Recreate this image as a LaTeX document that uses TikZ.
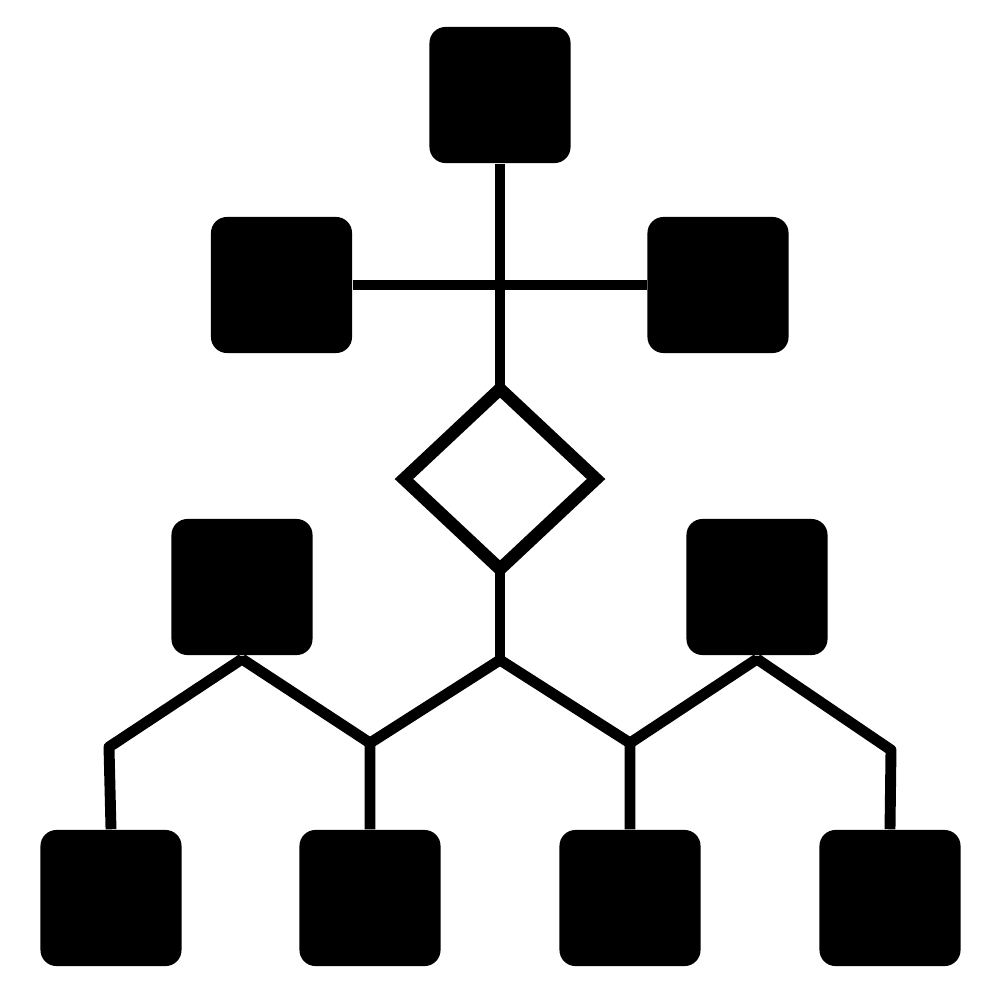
\documentclass[tikz,border=0pt]{standalone}
\usetikzlibrary{shapes.geometric}
\begin{document}
\begin{tikzpicture}[x=0.01cm,y=-0.01cm,
  blk/.style={rectangle,fill=black,draw=none,inner sep=0pt,rounded corners=0.16cm,minimum width=1.41cm,minimum height=1.36cm},
  dia/.style={diamond,draw=black,fill=white,line width=3.6pt,inner sep=0pt,outer sep=0pt,minimum width=1.92cm,minimum height=1.80cm,line join=miter},
  conn/.style={draw=black,line width=3.1pt,line join=round}]
\useasboundingbox[fill=white] (0,0) rectangle (1000,1000);
% boxes
\node[blk] (top) at (500,95) {};
\node[blk] (ml) at (281.5,285) {};
\node[blk] (mr) at (718,285) {};
\node[blk] (ll) at (242,587) {};
\node[blk] (lr) at (757,587) {};
\node[blk] (b1) at (111,898) {};
\node[blk] (b2) at (370,898) {};
\node[blk] (b3) at (630,898) {};
\node[blk] (b4) at (890,898) {};
% junction coordinates
\coordinate (j0) at (500,660);
\coordinate (jl) at (370,743);
\coordinate (jr) at (630,743);
\coordinate (cl) at (109,747);
\coordinate (cr) at (891,750);
\coordinate (apl) at (242,659);
\coordinate (apr) at (757,659);
% diamond
\node[dia] (d) at (500,479) {};
% connectors
\draw[conn] (top.south) -- (d.north);
\draw[conn] (ml.east) -- (mr.west);
\draw[conn] (d.south) -- (j0);
\draw[conn] (j0) -- (jl) -- (b2.north);
\draw[conn] (j0) -- (jr) -- (b3.north);
\draw[conn] (ll.south) -- (apl) -- (jl);
\draw[conn] (apl) -- (cl) -- (b1.north);
\draw[conn] (lr.south) -- (apr) -- (jr);
\draw[conn] (apr) -- (cr) -- (b4.north);
\end{tikzpicture}
\end{document}
